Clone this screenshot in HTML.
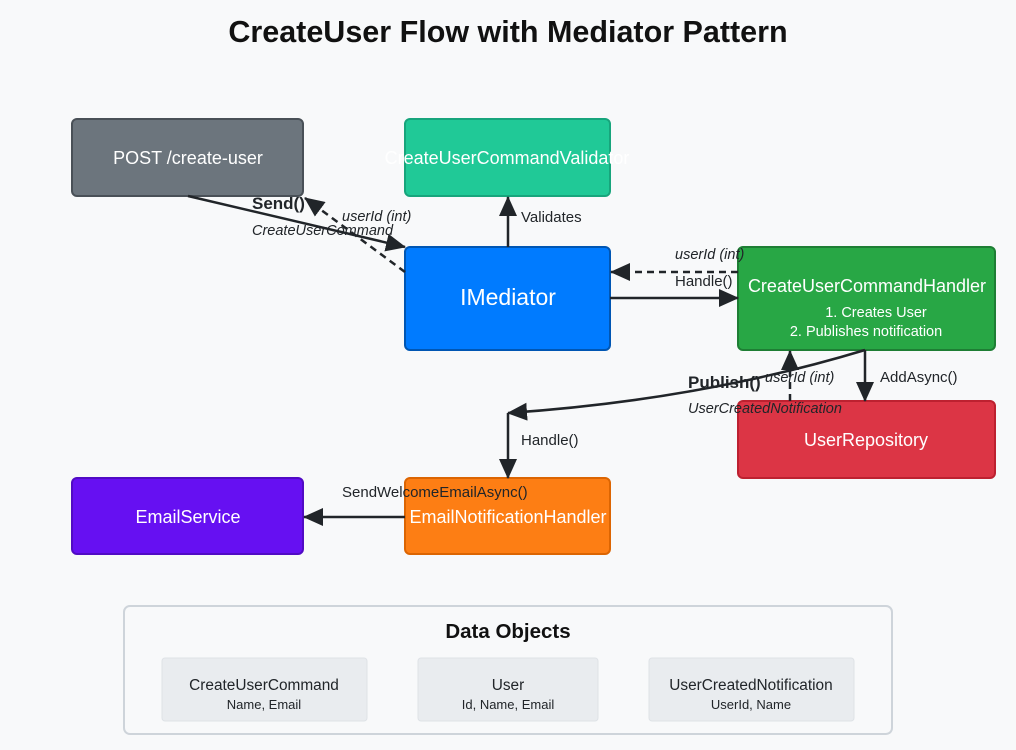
<!DOCTYPE html>
<html><head><meta charset="utf-8"><style>
html,body{margin:0;padding:0;background:#f8f9fa;}
svg{display:block;font-family:"Liberation Sans",Arial,sans-serif;}
</style></head><body>
<svg width="1016" height="750" viewBox="0 0 1016 750" xmlns="http://www.w3.org/2000/svg">
<defs>
<marker id="b" markerWidth="20" markerHeight="18" refX="19" refY="9" orient="auto" markerUnits="userSpaceOnUse">
<path d="M0,0 L20,9 L0,18 Z" fill="#212529"/></marker>
</defs>
<rect width="1016" height="750" fill="#f8f9fa"/>
<text x="508" y="42" text-anchor="middle" font-size="30.5" font-weight="bold" fill="#111">CreateUser Flow with Mediator Pattern</text>

<rect x="72" y="119" width="231" height="77" rx="5" fill="#6c757d" stroke="#495057" stroke-width="2"/>
<text x="188" y="164" text-anchor="middle" font-size="18" fill="#fff">POST /create-user</text>
<rect x="405" y="119" width="205" height="77" rx="5" fill="#20c997" stroke="#17a57c" stroke-width="2"/>
<text x="507" y="164" text-anchor="middle" font-size="18" fill="#fff">CreateUserCommandValidator</text>
<rect x="405" y="247" width="205" height="103" rx="5" fill="#007bff" stroke="#0056b3" stroke-width="2"/>
<text x="508" y="305" text-anchor="middle" font-size="23" fill="#fff">IMediator</text>
<rect x="738" y="247" width="257" height="103" rx="5" fill="#28a745" stroke="#1e7e34" stroke-width="2"/>
<text x="867" y="292" text-anchor="middle" font-size="18" fill="#fff">CreateUserCommandHandler</text>
<text x="876" y="317" text-anchor="middle" font-size="14.5" fill="#fff">1. Creates User</text>
<text x="866" y="336" text-anchor="middle" font-size="14.5" fill="#fff">2. Publishes notification</text>
<rect x="738" y="401" width="257" height="77" rx="5" fill="#dc3545" stroke="#bd2130" stroke-width="2"/>
<text x="866" y="446" text-anchor="middle" font-size="18" fill="#fff">UserRepository</text>
<rect x="405" y="478" width="205" height="76" rx="5" fill="#fd7e14" stroke="#dc6502" stroke-width="2"/>
<text x="508" y="523" text-anchor="middle" font-size="18" fill="#fff">EmailNotificationHandler</text>
<rect x="72" y="478" width="231" height="76" rx="5" fill="#6610f2" stroke="#510bc4" stroke-width="2"/>
<text x="188" y="523" text-anchor="middle" font-size="18" fill="#fff">EmailService</text>

<line x1="188" y1="196" x2="405" y2="247" stroke="#212529" stroke-width="2.5" marker-end="url(#b)"/>
<line x1="405" y1="272" x2="305" y2="198" stroke="#212529" stroke-width="2.5" stroke-dasharray="7,5" marker-end="url(#b)"/>
<text x="252" y="209" font-size="17" font-weight="bold" fill="#212529">Send()</text>
<text x="342" y="221" font-size="14.5" font-style="italic" fill="#212529">userId (int)</text>
<text x="252" y="235" font-size="14.5" font-style="italic" fill="#212529">CreateUserCommand</text>

<line x1="508" y1="247" x2="508" y2="197" stroke="#212529" stroke-width="2.5" marker-end="url(#b)"/>
<text x="521" y="222" font-size="15" fill="#212529">Validates</text>

<line x1="610" y1="298" x2="738" y2="298" stroke="#212529" stroke-width="2.5" marker-end="url(#b)"/>
<line x1="738" y1="272" x2="611" y2="272" stroke="#212529" stroke-width="2.5" stroke-dasharray="7,5" marker-end="url(#b)"/>
<text x="675" y="259" font-size="14.5" font-style="italic" fill="#212529">userId (int)</text>
<text x="675" y="286" font-size="15" fill="#212529">Handle()</text>

<path d="M865,350 Q700,400 508,413" fill="none" stroke="#212529" stroke-width="2.5" marker-end="url(#b)"/>
<line x1="508" y1="413" x2="508" y2="478" stroke="#212529" stroke-width="2.5" marker-end="url(#b)"/>
<text x="521" y="445" font-size="15" fill="#212529">Handle()</text>
<text x="688" y="388" font-size="17" font-weight="bold" fill="#212529">Publish()</text>
<text x="688" y="413" font-size="14.5" font-style="italic" fill="#212529">UserCreatedNotification</text>

<line x1="865" y1="350" x2="865" y2="401" stroke="#212529" stroke-width="2.5" marker-end="url(#b)"/>
<text x="880" y="382" font-size="15" fill="#212529">AddAsync()</text>
<line x1="790" y1="401" x2="790" y2="351" stroke="#212529" stroke-width="2.5" stroke-dasharray="7,5" marker-end="url(#b)"/>
<text x="765" y="382" font-size="14.5" font-style="italic" fill="#212529">userId (int)</text>

<line x1="405" y1="517" x2="304" y2="517" stroke="#212529" stroke-width="2.5" marker-end="url(#b)"/>
<text x="342" y="497" font-size="15" fill="#212529">SendWelcomeEmailAsync()</text>

<rect x="124" y="606" width="768" height="128" rx="6" fill="#f8f9fa" stroke="#ced4da" stroke-width="2"/>
<text x="508" y="638" text-anchor="middle" font-size="20.5" font-weight="bold" fill="#111">Data Objects</text>
<rect x="162" y="658" width="205" height="63" rx="3" fill="#e9ecef" stroke="#dee2e6"/>
<text x="264" y="690" text-anchor="middle" font-size="15.4" fill="#212529">CreateUserCommand</text>
<text x="264" y="709" text-anchor="middle" font-size="13" fill="#212529">Name, Email</text>
<rect x="418" y="658" width="180" height="63" rx="3" fill="#e9ecef" stroke="#dee2e6"/>
<text x="508" y="690" text-anchor="middle" font-size="15.4" fill="#212529">User</text>
<text x="508" y="709" text-anchor="middle" font-size="13" fill="#212529">Id, Name, Email</text>
<rect x="649" y="658" width="205" height="63" rx="3" fill="#e9ecef" stroke="#dee2e6"/>
<text x="751" y="690" text-anchor="middle" font-size="15.4" fill="#212529">UserCreatedNotification</text>
<text x="751" y="709" text-anchor="middle" font-size="13" fill="#212529">UserId, Name</text>
</svg>
</body></html>
